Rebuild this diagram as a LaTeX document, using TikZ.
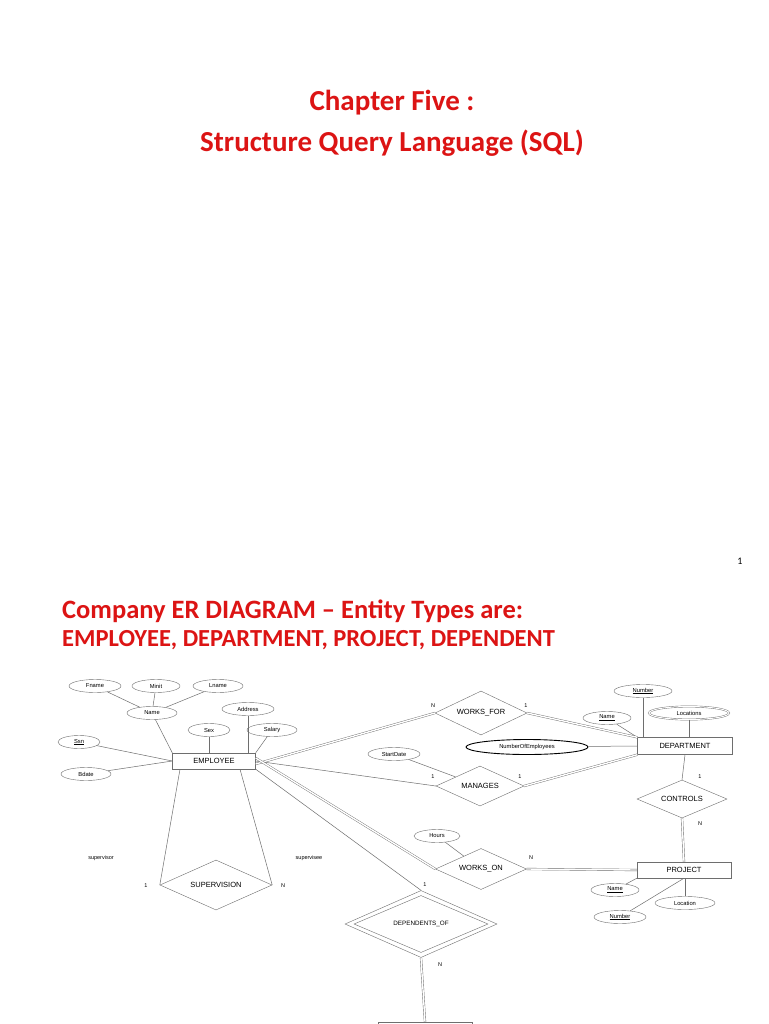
\documentclass[tikz,border=0pt]{standalone}
\usepackage{fontspec}
\setmainfont{Carlito}
\newfontfamily\erfont{Liberation Sans}
\usetikzlibrary{shapes.geometric,shapes.multipart}
\definecolor{titlered}{RGB}{220,20,20}
\definecolor{lg}{RGB}{110,110,110}
\begin{document}
\begin{tikzpicture}[x=1pt,y=-1pt,
  attr/.style={draw=lg,ellipse,inner sep=0pt,minimum height=13pt,minimum width=46pt,font=\erfont\fontsize{5.8}{6}\selectfont},
  ent/.style={draw=lg,rectangle,inner sep=0pt,minimum height=16pt,font=\erfont\fontsize{7.5}{8}\selectfont},
  rel/.style={draw=lg,diamond,aspect=2.2,inner sep=0pt,font=\erfont\fontsize{7.5}{8}\selectfont},
  lab/.style={font=\erfont\fontsize{5.5}{6}\selectfont,inner sep=0pt},
  ln/.style={draw=lg,line width=0.5pt},
  dl/.style={draw=lg,double=white,double distance=1.4pt,line width=0.4pt}]
\useasboundingbox (0,0) rectangle (768,1024);
\fill[white] (0,0) rectangle (768,1024);
% slide 1
\node[font=\bfseries\fontsize{29}{41}\selectfont,text=titlered,align=center] (t1) at (392,123) {Chapter Five :\\Structure Query Language (SQL)};
\node[font=\fontsize{10}{12}\selectfont] (pg) at (740,561) {1};
% slide 2
\node[anchor=west,font=\bfseries\fontsize{26.5}{30}\selectfont,text=titlered,inner sep=0pt] (h1) at (62,611) {Company ER DIAGRAM -- Entity Types are:};
\node[anchor=west,font=\bfseries\fontsize{24.5}{28}\selectfont,text=titlered,inner sep=0pt] (h2) at (62,640) {EMPLOYEE, DEPARTMENT, PROJECT, DEPENDENT};
% entities
\node[ent,minimum width=83pt] (emp) at (214,761) {EMPLOYEE};
\node[ent,minimum width=95pt,minimum height=17pt] (dept) at (685,746) {DEPARTMENT};
\node[ent,minimum width=94pt] (proj) at (684,870) {PROJECT};
\node[ent,minimum width=94pt,minimum height=16pt] (dep) at (425,1030) {};
% relationships
\node[rel,minimum width=92pt,minimum height=44pt] (wf) at (481,713) {WORKS\_FOR};
\node[rel,minimum width=88pt,minimum height=40pt] (man) at (480,786) {MANAGES};
\node[rel,minimum width=90pt,minimum height=38pt] (ctl) at (682,799) {CONTROLS};
\node[rel,minimum width=91pt,minimum height=41pt] (won) at (481,869) {WORKS\_ON};
\node[rel,minimum width=112pt,minimum height=50pt] (sup) at (216,885) {SUPERVISION};
\node[rel,minimum width=152pt,minimum height=67pt] (dof) at (421,924) {};
\node[rel,minimum width=134pt,minimum height=57pt,font=\erfont\fontsize{6.3}{7}\selectfont] (dofi) at (421,924) {DEPENDENTS\_OF};
% attributes
\node[attr,minimum width=52pt] (fn) at (95,686) {Fname};
\node[attr,minimum width=48pt] (mi) at (156,686) {Minit};
\node[attr,minimum width=50pt] (lnm) at (218,686) {Lname};
\node[attr,minimum width=50pt] (nm) at (152,713) {Name};
\node[attr,minimum width=52pt] (ad) at (248,709) {Address};
\node[attr,minimum width=42pt] (sx) at (209,730) {Sex};
\node[attr,minimum width=50pt] (sa) at (272,730) {Salary};
\node[attr,minimum width=42pt] (ssn) at (79,742) {\underline{Ssn}};
\node[attr,minimum width=50pt] (bd) at (86,774) {Bdate};
\node[attr,minimum width=58pt] (dnum) at (643,691) {\underline{Number}};
\node[attr,minimum width=48pt] (dnm) at (607,718) {\underline{Name}};
\node[attr,minimum width=80pt,double,double distance=1pt] (loc) at (689,713) {Locations};
\node[attr,minimum width=122pt,minimum height=15pt,draw=black,line width=0.9pt] (noe) at (527,747) {NumberOfEmployees};
\node[attr,minimum width=52pt] (sd) at (394,754) {StartDate};
\node[attr,minimum width=46pt] (hr) at (437,836) {Hours};
\node[attr,minimum width=48pt] (pnm) at (615,890) {\underline{Name}};
\node[attr,minimum width=60pt] (ploc) at (685,903) {Location};
\node[attr,minimum width=52pt] (pnum) at (620,917) {\underline{Number}};
% attribute lines
\draw[ln] (fn) -- (nm); \draw[ln] (mi) -- (nm); \draw[ln] (lnm) -- (nm);
\draw[ln] (nm) -- (emp.north west); \draw[ln] (sx) -- (sx|-emp.north);
\draw[ln] (ad) -- (ad|-emp.north); \draw[ln] (sa) -- (emp.north east);
\draw[ln] (ssn) -- (emp.west); \draw[ln] (bd) -- (emp.west);
\draw[ln] (dnum) -- (dnum|-dept.north); \draw[ln] (dnm) -- (dept.north west);
\draw[ln] (loc) -- (loc|-dept.north); \draw[ln] (noe) -- (dept.west);
\draw[ln] (sd) -- (man); \draw[ln] (hr) -- (won);
\draw[ln] (pnm) -- (proj.south west); \draw[ln] (ploc) -- (ploc|-proj.south);
\draw[ln] (pnum) -- (proj.south);
% relationship lines
\coordinate (e1) at ([yshift=-3pt]emp.east);
\coordinate (e2) at ([yshift=3pt]emp.east);
\draw[dl] (e1) -- (wf.west);
\draw[dl] (wf.east) -- (dept.north west);
\draw[ln] (emp.east) -- (man.west);
\draw[dl] (man.east) -- (dept.south west);
\draw[ln] (dept.south) -- (ctl.north);
\draw[dl] (ctl.south) -- (proj.north);
\draw[dl] (e2) -- (won.west);
\draw[dl] (won.east) -- (proj.west);
\draw[ln] (emp.south east) -- (dof.north);
\draw[dl] (dof.south) -- (dep.north);
\draw[ln] ([xshift=-34pt]emp.south) -- (sup.west);
\draw[ln] ([xshift=26pt]emp.south) -- (sup.east);
% labels
\node[lab] (l1) at (101,858) {supervisor};
\node[lab] (l2) at (309,858) {supervisee};
\node[lab] (l3) at (146,886) {1};
\node[lab] (l4) at (283,886) {N};
\node[lab] (l5) at (433,706) {N};
\node[lab] (l6) at (526,706) {1};
\node[lab] (l7) at (433,777) {1};
\node[lab] (l8) at (520,777) {1};
\node[lab] (l9) at (700,777) {1};
\node[lab] (l10) at (700,824) {N};
\node[lab] (l11) at (531,858) {N};
\node[lab] (l12) at (425,885) {1};
\node[lab] (l13) at (440,965) {N};
\end{tikzpicture}
\end{document}
